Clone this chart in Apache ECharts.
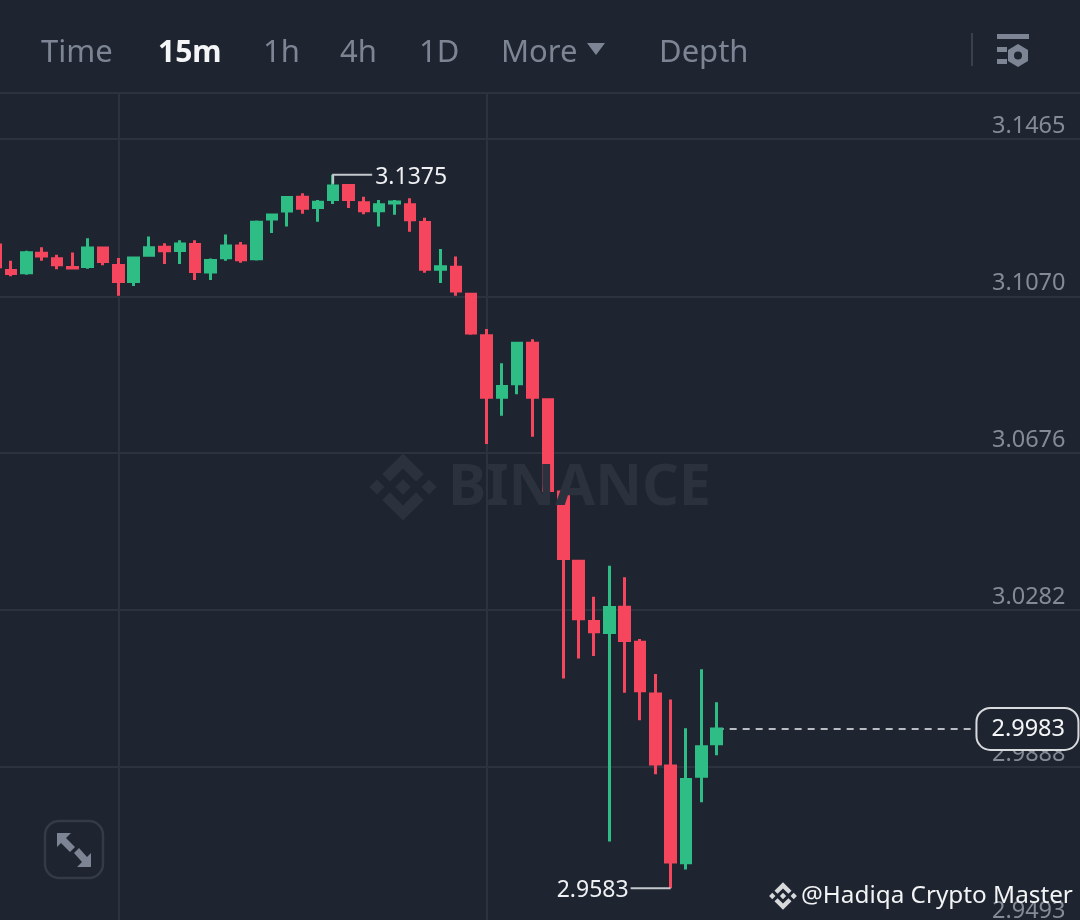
<!DOCTYPE HTML>
<html>
<head>
<meta charset="utf-8">
<title>15m candles</title>
<style>
html,body{margin:0;padding:0;background:#1e2430;}
#main{width:1080px;height:920px;}
</style>
<script src="https://cdn.jsdelivr.net/npm/echarts@6/dist/echarts.min.js"></script>
</head>
<body>
<div id="main"></div>
<script type="text/javascript">
// one entry per 15m bar, left to right
var opens = [3.1199,3.1135,3.1129,3.1178,3.1164,3.1142,3.1145,3.1191,3.1147,3.1107,3.1173,3.1193,3.1185,3.1200,3.1131,3.1167,3.1196,3.1164,3.1264,3.1284,3.1319,3.1293,3.1313,3.1348,3.1305,3.1285,3.1304,3.1300,3.1255,3.1138,3.1143,3.1075,3.0971,3.0816,3.0850,3.0952,3.0810,3.0578,3.0404,3.0253,3.0225,3.0289,3.0201,3.0071,2.9890,2.9647,2.9864,2.9946];
var closes = [3.1144,3.1127,3.1179,3.1171,3.1149,3.1141,3.1191,3.1157,3.1107,3.1166,3.1192,3.1184,3.1201,3.1132,3.1160,3.1196,3.1162,3.1256,3.1274,3.1318,3.1291,3.1306,3.1347,3.1313,3.1285,3.1300,3.1307,3.1262,3.1138,3.1144,3.1083,3.0978,3.0816,3.0843,3.0952,3.0816,3.0582,3.0411,3.0260,3.0227,3.0288,3.0205,3.0079,2.9895,2.9649,2.9856,2.9938,2.9983];
var lows = [3.1138,3.1120,3.1124,3.1159,3.1138,3.1137,3.1139,3.1148,3.1071,3.1096,3.1169,3.1151,3.1151,3.1111,3.1111,3.1159,3.1154,3.1160,3.1229,3.1245,3.1277,3.1257,3.1302,3.1292,3.1276,3.1245,3.1275,3.1232,3.1129,3.1103,3.1071,3.0973,3.0699,3.0770,3.0824,3.0717,3.0566,3.0110,3.0160,3.0166,2.9700,3.0074,3.0005,2.9869,2.9583,2.9630,2.9799,2.9917];
var highs = [3.1204,3.1159,3.1184,3.1193,3.1174,3.1180,3.1216,3.1195,3.1166,3.1169,3.1220,3.1203,3.1211,3.1211,3.1165,3.1225,3.1206,3.1260,3.1278,3.1322,3.1329,3.1312,3.1375,3.1352,3.1320,3.1312,3.1312,3.1316,3.1267,3.1189,3.1170,3.1079,3.0988,3.0902,3.0956,3.0962,3.0814,3.0586,3.0407,3.0315,3.0393,3.0364,3.0209,3.0121,3.0057,2.9985,3.0133,3.0050];
var priceTicks = [3.1465,3.1070,3.0676,3.0282,2.9888,2.9493];
var timeGridBars = ['8','32'];
var highestBar = 22, highestPrice = 3.1375;
var lowestBar = 44, lowestPrice = 2.9583;
var lastPrice = 2.9983;
var lastPriceLineEnd = 64;
var tabs = ['Time','15m','1h','4h','1D','More','Depth'];

// empty slots on the right of the last bar
var barCount = 72;
var categories = [];
for (var i = 0; i < barCount; i++) categories.push(String(i));
var candleData = opens.map(function(o, i) { return [o, closes[i], lows[i], highs[i]]; });

var BG = '#1e2430', GRID = '#2c323e', TICK = '#858b96', GREEN = '#2ebd85', RED = '#f6465d', MUTED = '#7d8594';
var FONT = '"Noto Sans", sans-serif';

function hText(text, x, y, size, color, weight, align, z) {
	return {type:'text', z:z || 10, style:{text:text, x:x, y:y, fill:color, font:(weight || 'normal') + ' ' + size + 'px ' + FONT, textAlign:align || 'left', textVerticalAlign:'middle'}};
}
function poly(points, color, z) {
	return {type:'polygon', z:z, shape:{points:points}, style:{fill:color}};
}
// binance mark, drawn on a 126 unit square
function logo(cx, cy, size, color, z) {
	var k = size / 126;
	var parts = [
		[[38.7,53.2],[63,28.9],[87.3,53.2],[101.4,39.1],[63,0.7],[24.6,39.1]],
		[[0.7,63],[14.8,48.9],[28.9,63],[14.8,77.1]],
		[[48.7,63],[63,48.7],[77.3,63],[63,77.3]],
		[[97.1,63],[111.2,48.9],[125.3,63],[111.2,77.1]],
		[[38.7,72.8],[63,97.1],[87.3,72.8],[101.4,86.9],[63,125.3],[24.6,86.9]]
	];
	return parts.map(function(p) {
		return poly(p.map(function(q) { return [cx + (q[0] - 63) * k, cy + (q[1] - 63) * k]; }), color, z);
	});
}

var tabX = [41,158,263,340,419,501,659];
var chrome = [];
tabs.forEach(function(t, i) {
	chrome.push(hText(t, tabX[i], 53, t == '15m' ? 30 : 31, t == '15m' ? '#f4f5f6' : MUTED, t == '15m' ? 'bold' : 'normal'));
});
chrome.push(poly([[587,43],[605,43],[596,55]], MUTED, 10));
chrome.push({type:'rect', z:10, shape:{x:0,y:92,width:1080,height:2}, style:{fill:GRID}});
chrome.push({type:'rect', z:10, shape:{x:971,y:33,width:2,height:33}, style:{fill:'#3a414d'}});
// settings icon
chrome.push({type:'rect', z:10, shape:{x:997,y:34,width:32,height:5}, style:{fill:MUTED}});
chrome.push({type:'rect', z:10, shape:{x:997,y:47,width:10,height:5}, style:{fill:MUTED}});
chrome.push({type:'rect', z:10, shape:{x:997,y:59,width:10,height:5}, style:{fill:MUTED}});
chrome.push(poly([[1018,44],[1028,50],[1028,61],[1018,67],[1008,61],[1008,50]], MUTED, 10));
chrome.push({type:'circle', z:11, shape:{cx:1018,cy:55.5,r:4}, style:{fill:BG}});
// expand button
chrome.push({type:'rect', z:10, shape:{x:45,y:821,width:58,height:57,r:14}, style:{fill:BG, stroke:'#343a46', lineWidth:2.5}});
chrome.push(poly([[57,833],[71,833],[66,838],[75,847],[70,852],[61,843],[57,847]], MUTED, 11));
chrome.push(poly([[91,867],[77,867],[82,862],[74,853],[79,848],[87,857],[91,853]], MUTED, 11));
// watermarks
chrome = chrome.concat(logo(403, 487, 68, '#2c323d', 0));
chrome.push(hText('BINANCE', 448, 489, 57.5, '#2c323d', 'bold', 'left', 0));
chrome = chrome.concat(logo(783, 896, 28, '#d8d9db', 30));
chrome.push(hText('@Hadiqa Crypto Master', 801, 896, 24.3, '#f2f3f4', 'normal', 'left', 30));

function renderCallout(params, api) {
	var p = api.coord([api.value(0), api.value(1)]);
	var up = api.value(2) > 0;
	var dir = up ? 1 : -1;
	var kids = [{
		type:'polyline',
		shape:{points: up ? [[p[0],p[1]+9],[p[0],p[1]],[p[0]+39,p[1]]] : [[p[0],p[1]],[p[0]-40,p[1]]]},
		style:{stroke:'#c4c7cc', lineWidth:2, fill:null}
	},{
		type:'text',
		style:{text:api.value(1).toFixed(4), x:p[0]+dir*42, y:p[1]+(up ? 3 : 2), fill:'#eef0f2', font:'23px ' + FONT, textAlign:up ? 'left' : 'right', textVerticalAlign:'middle'}
	}];
	return {type:'group', children:kids};
}

var myChart = echarts.init(document.getElementById('main'));
myChart.setOption({
	animation:false,
	backgroundColor:BG,
	textStyle:{fontFamily:FONT},
	graphic:{elements:chrome},
	// plot runs past the canvas on three sides, like the cropped screenshot
	grid:{left:-12, top:93, width:1104.5, height:832, outerBoundsMode:'none'},
	xAxis:{type:'category', data:categories, boundaryGap:true, axisLine:{show:false}, axisTick:{show:false}, axisLabel:{show:false}, splitLine:{show:false}},
	yAxis:{
		type:'value', position:'right', min:2.94905, max:3.15806, scale:true,
		axisLine:{show:false},
		axisTick:{show:false, customValues:priceTicks},
		axisLabel:{inside:true, customValues:priceTicks, margin:27, color:TICK, fontSize:23.5, fontFamily:FONT, verticalAlign:'bottom', lineHeight:25, formatter:function(v){return v.toFixed(4);}},
		splitLine:{show:true, lineStyle:{color:GRID, width:2}}
	},
	series:[{
		type:'line', z:1, data:[], silent:true,
		markLine:{
			silent:true, symbol:'none', animation:false, z:1, // keep under the candles
			data:[
				{xAxis:timeGridBars[0], lineStyle:{color:GRID, width:2, type:'solid'}, label:{show:false}},
				{xAxis:timeGridBars[1], lineStyle:{color:GRID, width:2, type:'solid'}, label:{show:false}},
				[{coord:[String(opens.length - 1), lastPrice], lineStyle:{color:'#b9bcc2', width:2, type:[7,6]},
					label:{show:true, position:'end', distance:0, formatter:lastPrice.toFixed(4), color:'#f4f5f6', fontSize:23.5, fontFamily:FONT,
						backgroundColor:BG, borderColor:'#d8dadd', borderWidth:2, borderRadius:13, width:86, height:40, lineHeight:40, padding:[0,0,0,14], align:'left', verticalAlign:'middle'}},
				 {coord:[String(lastPriceLineEnd), lastPrice]}]
			]
		}
	},{
		type:'candlestick', z:2, data:candleData, barWidth:10, silent:true,
		itemStyle:{color:GREEN, color0:RED, borderColor:GREEN, borderColor0:RED, borderWidth:3}
	},{
		type:'custom', z:3, silent:true, clip:false, renderItem:renderCallout,
		data:[[highestBar, highestPrice, 1],[lowestBar, lowestPrice, 0]],
		encode:{x:0, y:1}
	}]
});
</script>
</body>
</html>
